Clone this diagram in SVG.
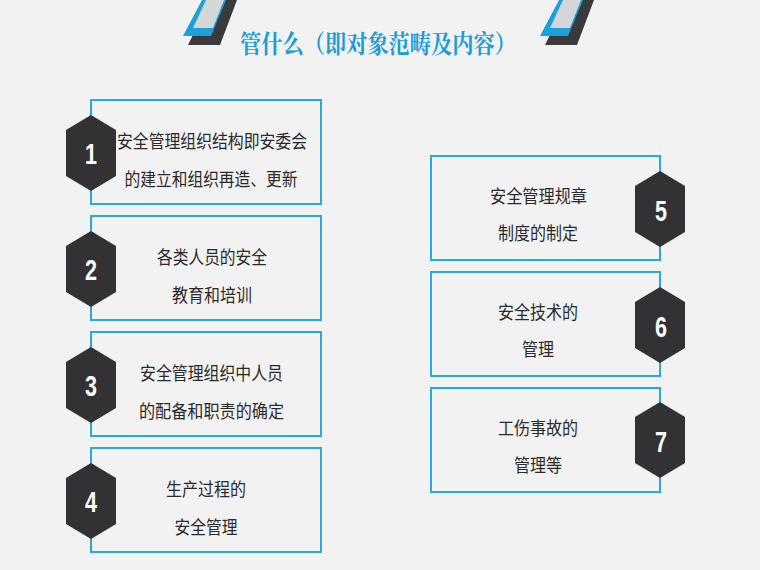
<svg xmlns="http://www.w3.org/2000/svg" width="760" height="570" viewBox="0 0 760 570">
<style>
.frame{fill:none;stroke:#29a9e0;stroke-width:2}
.hex{fill:#323133}
.num{font-family:"Liberation Sans",Arial,sans-serif;font-weight:bold;font-size:30px;fill:#ffffff;text-anchor:middle}
.t{font-family:"Noto Sans CJK SC","Noto Sans",sans-serif;font-size:18px;fill:#2a2a2a;text-anchor:middle}
.title{font-family:"Noto Serif CJK SC","Noto Sans CJK SC",serif;font-weight:bold;font-size:25px;fill:#1b9dd8;text-anchor:middle}
</style>
<defs>
<polygon id="hexshape" points="0,-38 25,-23 25,23 0,38 -25,23 -25,-23"/>
</defs>
<rect width="760" height="570" fill="#f2f2f2"/>
<g id="decor-left">
<polygon points="210,0 237,0 220,45 188,45" fill="#3a393b"/>
<polygon points="202,0 226,0 211,36 183,36" fill="#1ba0da"/>
<polygon points="206,0 224,0 213,28 193,28" fill="#d4d6d8"/>
</g>
<g id="decor-right">
<polygon points="567,0 594,0 577,45 545,45" fill="#3a393b"/>
<polygon points="559,0 583,0 568,36 540,36" fill="#1ba0da"/>
<polygon points="563,0 581,0 570,28 550,28" fill="#d4d6d8"/>
</g>
<text class="title" x="378" y="53" textLength="276" lengthAdjust="spacingAndGlyphs">管什么（即对象范畴及内容）</text>
<g id="connectors"></g>
<g id="node1">
<rect class="frame" x="91" y="100" width="230" height="104"/>
<use href="#hexshape" class="hex" x="91" y="153"/>
<text class="num" x="91" y="164" textLength="12" lengthAdjust="spacingAndGlyphs">1</text>
<text class="t" x="212" y="148" textLength="190" lengthAdjust="spacingAndGlyphs">安全管理组织结构即安委会</text>
<text class="t" x="211" y="186" textLength="173" lengthAdjust="spacingAndGlyphs">的建立和组织再造、更新</text>
</g>
<g id="node2">
<rect class="frame" x="91" y="216" width="230" height="104"/>
<use href="#hexshape" class="hex" x="91" y="269"/>
<text class="num" x="91" y="280" textLength="12" lengthAdjust="spacingAndGlyphs">2</text>
<text class="t" x="212" y="264" textLength="110" lengthAdjust="spacingAndGlyphs">各类人员的安全</text>
<text class="t" x="212" y="302" textLength="80" lengthAdjust="spacingAndGlyphs">教育和培训</text>
</g>
<g id="node3">
<rect class="frame" x="91" y="332" width="230" height="104"/>
<use href="#hexshape" class="hex" x="91" y="385"/>
<text class="num" x="91" y="396" textLength="12" lengthAdjust="spacingAndGlyphs">3</text>
<text class="t" x="211.5" y="380" textLength="143" lengthAdjust="spacingAndGlyphs">安全管理组织中人员</text>
<text class="t" x="211.5" y="418" textLength="145" lengthAdjust="spacingAndGlyphs">的配备和职责的确定</text>
</g>
<g id="node4">
<rect class="frame" x="91" y="448" width="230" height="104"/>
<use href="#hexshape" class="hex" x="91" y="501"/>
<text class="num" x="91" y="512" textLength="12" lengthAdjust="spacingAndGlyphs">4</text>
<text class="t" x="206" y="496" textLength="80" lengthAdjust="spacingAndGlyphs">生产过程的</text>
<text class="t" x="206" y="534" textLength="63" lengthAdjust="spacingAndGlyphs">安全管理</text>
</g>
<g id="node5">
<rect class="frame" x="431" y="156" width="229" height="104"/>
<use href="#hexshape" class="hex" x="660" y="209"/>
<text class="num" x="661" y="221" textLength="12" lengthAdjust="spacingAndGlyphs">5</text>
<text class="t" x="538.5" y="203" textLength="97" lengthAdjust="spacingAndGlyphs">安全管理规章</text>
<text class="t" x="538" y="240" textLength="80" lengthAdjust="spacingAndGlyphs">制度的制定</text>
</g>
<g id="node6">
<rect class="frame" x="431" y="272" width="229" height="104"/>
<use href="#hexshape" class="hex" x="660" y="325"/>
<text class="num" x="661" y="337" textLength="12" lengthAdjust="spacingAndGlyphs">6</text>
<text class="t" x="538" y="319" textLength="80" lengthAdjust="spacingAndGlyphs">安全技术的</text>
<text class="t" x="538" y="356" textLength="32" lengthAdjust="spacingAndGlyphs">管理</text>
</g>
<g id="node7">
<rect class="frame" x="431" y="388" width="229" height="104"/>
<use href="#hexshape" class="hex" x="660" y="440"/>
<text class="num" x="661" y="452" textLength="12" lengthAdjust="spacingAndGlyphs">7</text>
<text class="t" x="538" y="435" textLength="80" lengthAdjust="spacingAndGlyphs">工伤事故的</text>
<text class="t" x="538" y="472" textLength="48" lengthAdjust="spacingAndGlyphs">管理等</text>
</g>
</svg>
